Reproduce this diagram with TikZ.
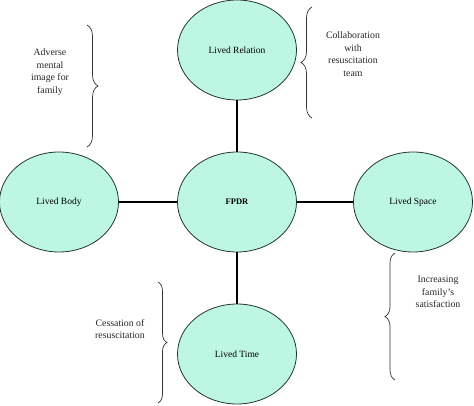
\documentclass[tikz,border=0pt]{standalone}
\usepackage{fontspec}
\setmainfont{Liberation Serif}
\usepackage{tikz}
\usetikzlibrary{shapes.geometric,decorations.pathreplacing}
\definecolor{mint}{RGB}{190,246,228}
\definecolor{rim}{RGB}{35,55,50}

\begin{document}
\begin{tikzpicture}[x=1pt,y=-1pt,
	theme/.style={shape=ellipse,draw=rim,fill=mint,line width=0.8pt,minimum width=119pt,minimum height=100pt,inner sep=0pt,font=\fontsize{9.5}{12}\selectfont},
	link/.style={line width=1.6pt,black},
	note/.style={align=center,font=\fontsize{9.8}{12.5}\selectfont,text=black!85},
	curly/.style={decorate,line width=0.7pt,black!80}]
	\useasboundingbox (0,0) rectangle (474,405);
	\path (237,202) node (fpdr) [theme,font=\fontsize{8.5}{10}\bfseries] {FPDR}
		  (237,50) node (rel) [theme] {Lived Relation}
		  (59,202) node (body) [theme] {Lived Body}
		  (413,202) node (space) [theme] {Lived Space}
		  (237,354) node (time) [theme] {Lived Time};
	\draw[link] (rel) -- (fpdr);
	\draw[link] (body) -- (fpdr);
	\draw[link] (fpdr) -- (space);
	\draw[link] (fpdr) -- (time);
	% notes and braces
	\path (50,72) node (adverse) [note] {Adverse\\mental\\image for\\family}
		  (353,54) node (collab) [note] {Collaboration\\with\\resuscitation\\team}
		  (120,329) node (cessation) [note] {Cessation of\\resuscitation}
		  (438,292) node (increase) [note] {Increasing\\family's\\satisfaction};
	\coordinate (b1a) at (87,25);  \coordinate (b1b) at (87,147);
	\coordinate (b2a) at (312,118); \coordinate (b2b) at (312,7);
	\coordinate (b3a) at (158,282); \coordinate (b3b) at (158,403);
	\coordinate (b4a) at (395,380); \coordinate (b4b) at (395,253);
	\draw[curly,decoration={brace,amplitude=11pt}] (b1a) -- (b1b);
	\draw[curly,decoration={brace,amplitude=11pt}] (b2a) -- (b2b);
	\draw[curly,decoration={brace,amplitude=9pt}] (b3a) -- (b3b);
	\draw[curly,decoration={brace,amplitude=10pt}] (b4a) -- (b4b);
\end{tikzpicture}
\end{document}
